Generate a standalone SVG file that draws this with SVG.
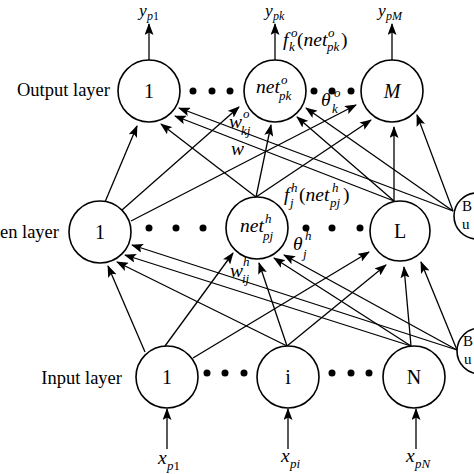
<svg xmlns="http://www.w3.org/2000/svg" width="474" height="474" viewBox="0 0 474 474">
<defs>
<marker id="ah" markerUnits="userSpaceOnUse" markerWidth="12" markerHeight="9" refX="11" refY="4.5" orient="auto">
<path d="M0,0 L12,4.5 L0,9 L2.5,4.5 z" fill="#000"/>
</marker>
<style>
.n{fill:#fff;stroke:#000;stroke-width:1.6}
.c line{stroke:#000;stroke-width:1.3;fill:none}
.c .a{marker-end:url(#ah)}
.io{stroke-width:1.8}
text{font-family:"Liberation Serif","Times New Roman",serif;fill:#000}
.lbl{font-size:18.5px}
.b{font-size:15px}
.mt{font-size:19.5px}
.yt{font-size:17.5px}
.m{font-size:20px;text-anchor:middle}
.i{font-style:italic}
.s{font-size:13px}
.ys{font-size:12px}
.dot{fill:#000}
</style>
</defs>
<rect width="474" height="474" fill="#fff"/>

<g class="c" id="connectors">
<line class="a" x1="145" y1="352" x2="108" y2="266"/>
<line class="a" x1="165" y1="346" x2="233" y2="253"/>
<line class="a" x1="193" y1="358" x2="369" y2="252"/>
<line class="a" x1="287" y1="346" x2="117" y2="262"/>
<line class="a" x1="287" y1="346" x2="259" y2="263"/>
<line class="a" x1="287" y1="346" x2="386" y2="265"/>
<line class="a" x1="411" y1="346" x2="125" y2="255"/>
<line class="a" x1="411" y1="346" x2="274" y2="258"/>
<line class="a" x1="411" y1="346" x2="404" y2="267"/>
<line class="a" x1="457" y1="350" x2="132" y2="245"/>
<line class="a" x1="457" y1="350" x2="284" y2="255"/>
<line class="a" x1="457" y1="350" x2="421" y2="262"/>
<line class="a" x1="105" y1="202" x2="137" y2="126"/>
<line class="a" x1="122" y1="210" x2="239" y2="107"/>
<line class="a" x1="131" y1="221" x2="356" y2="105"/>
<line class="a" x1="256" y1="197" x2="161" y2="124"/>
<line class="a" x1="256" y1="197" x2="271" y2="125"/>
<line class="a" x1="256" y1="197" x2="371" y2="120"/>
<line class="a" x1="394" y1="201" x2="175" y2="116"/>
<line class="a" x1="394" y1="201" x2="297" y2="117"/>
<line class="a" x1="394" y1="201" x2="394" y2="127"/>
<line class="a" x1="453" y1="211" x2="179" y2="108"/>
<line class="a" x1="453" y1="211" x2="306" y2="108"/>
<line class="a" x1="453" y1="211" x2="417" y2="115"/>
<line class="a io" x1="149" y1="60" x2="149" y2="24"/>
<line class="a io" x1="275" y1="60" x2="275" y2="24"/>
<line class="a io" x1="392" y1="60" x2="392" y2="24"/>
<line class="a io" x1="167" y1="449" x2="167" y2="409"/>
<line class="a io" x1="288" y1="449" x2="288" y2="409"/>
<line class="a io" x1="416" y1="449" x2="416" y2="409"/>
</g>

<g id="out1"><circle class="n" cx="149" cy="91" r="31"/><text class="m" x="149" y="98">1</text></g>
<g id="outk"><circle class="n" cx="275" cy="91" r="31"/>
<text class="mt i" x="256" y="93">net</text><text class="s i" x="281" y="84">o</text><text class="s i" x="279" y="100">pk</text></g>
<g id="outM"><circle class="n" cx="392" cy="91" r="31"/><text class="m i" x="392" y="98">M</text></g>

<g id="hid1"><circle class="n" cx="100" cy="232" r="31"/><text class="m" x="100" y="239">1</text></g>
<g id="hidj"><circle class="n" cx="257" cy="228" r="31"/>
<text class="mt i" x="240" y="232">net</text><text class="s i" x="265" y="223">h</text><text class="s i" x="263" y="240">pj</text></g>
<g id="hidL"><circle class="n" cx="400" cy="231" r="30"/><text class="m" x="400" y="238">L</text></g>

<g id="in1"><circle class="n" cx="167" cy="377" r="31"/><text class="m" x="167" y="384">1</text></g>
<g id="ini"><circle class="n" cx="288" cy="377" r="31"/><text class="m" x="288" y="384">i</text></g>
<g id="inN"><circle class="n" cx="414" cy="377" r="31"/><text class="m" x="414" y="384">N</text></g>

<g id="bias1"><circle class="n" cx="477" cy="216" r="23"/>
<text class="b" x="462" y="211">B</text><text class="b" x="462" y="229">u</text></g>
<g id="bias2"><circle class="n" cx="480" cy="351" r="23"/>
<text class="b" x="463" y="346">B</text><text class="b" x="464" y="364">u</text></g>

<g id="dots">
<circle class="dot" cx="193" cy="91" r="3.5"/><circle class="dot" cx="212" cy="91" r="3.5"/><circle class="dot" cx="230" cy="91" r="3.5"/>
<circle class="dot" cx="314" cy="91" r="3.5"/><circle class="dot" cx="332" cy="91" r="3.5"/><circle class="dot" cx="351" cy="91" r="3.5"/>
<circle class="dot" cx="149" cy="228" r="3.5"/><circle class="dot" cx="176" cy="228" r="3.5"/><circle class="dot" cx="203" cy="228" r="3.5"/>
<circle class="dot" cx="306" cy="228" r="3.5"/><circle class="dot" cx="332" cy="228" r="3.5"/><circle class="dot" cx="360" cy="228" r="3.5"/>
<circle class="dot" cx="207" cy="373" r="3.5"/><circle class="dot" cx="225" cy="373" r="3.5"/><circle class="dot" cx="244" cy="373" r="3.5"/>
<circle class="dot" cx="332" cy="373" r="3.5"/><circle class="dot" cx="351" cy="373" r="3.5"/><circle class="dot" cx="369" cy="373" r="3.5"/>
</g>

<g id="labels">
<text class="lbl" x="110" y="96" text-anchor="end">Output layer</text>
<text class="lbl" x="59" y="238" text-anchor="end" font-size="18">en layer</text>
<text class="lbl" x="122" y="384" text-anchor="end">Input layer</text>

<text class="yt i" x="139" y="16">y</text><text class="ys" x="147" y="20"><tspan class="i">p</tspan>1</text>
<text class="yt i" x="265" y="16">y</text><text class="ys i" x="273" y="20">pk</text>
<text class="yt i" x="378" y="16">y</text><text class="ys i" x="386" y="20">pM</text>

<text class="mt i" x="283" y="46">f</text><text class="s i" x="291" y="37">o</text><text class="s i" x="289" y="51">k</text>
<text class="mt" x="297" y="46">(<tspan class="i">net</tspan></text><text class="s i" x="328" y="37">o</text><text class="s i" x="327" y="51">pk</text><text class="mt" x="341" y="46">)</text>

<text class="mt i" x="321" y="106">θ</text><text class="s i" x="334" y="97">o</text><text class="s i" x="332" y="113">k</text>

<text class="mt i" x="229" y="128">w</text><text class="s i" x="243" y="118">o</text><text class="s i" x="241" y="135">kj</text>
<text class="mt i" x="231" y="155">w</text>

<text class="mt i" x="284" y="201">f</text><text class="s i" x="291" y="192">h</text><text class="s i" x="290" y="207">j</text>
<text class="mt" x="299" y="201">(<tspan class="i">net</tspan></text><text class="s i" x="332" y="192">h</text><text class="s i" x="330" y="207">pj</text><text class="mt" x="343" y="201">)</text>

<text class="mt i" x="293" y="250">θ</text><text class="s i" x="305" y="240">h</text><text class="s i" x="303" y="258">j</text>

<text class="mt i" x="230" y="277">w</text><text class="s i" x="243" y="266">h</text><text class="s i" x="242" y="283">ij</text>

<text class="mt i" x="158" y="464">x</text><text class="s" x="167" y="470"><tspan class="i">p</tspan>1</text>
<text class="mt i" x="281" y="462">x</text><text class="s i" x="290" y="468">pi</text>
<text class="mt i" x="406" y="462">x</text><text class="s i" x="415" y="468">pN</text>
</g>
</svg>
